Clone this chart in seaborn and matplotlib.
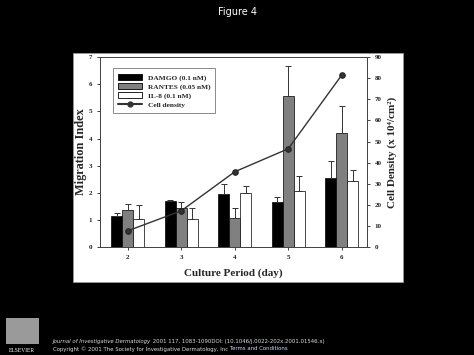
import matplotlib
matplotlib.use('Agg')
import matplotlib.pyplot as plt
import seaborn as sns
import numpy as np
import pandas as pd
from matplotlib.patches import Rectangle, Patch
from matplotlib.lines import Line2D

#----------------------------------------------------------------------------------------------------------------------#
# Data
#----------------------------------------------------------------------------------------------------------------------#

days = ['2', '3', '4', '5', '6']
treatments = ['DAMGO (0.1 nM)', 'RANTES (0.05 nM)', 'IL-8 (0.1 nM)']

damgo = [1.13, 1.70, 1.95, 1.65, 2.55]
damgo_err = [0.13, 0.02, 0.38, 0.20, 0.62]
rantes = [1.38, 1.45, 1.08, 5.55, 4.20]
rantes_err = [0.20, 0.22, 0.37, 1.12, 1.00]
il8 = [1.05, 1.03, 2.00, 2.08, 2.45]
il8_err = [0.50, 0.42, 0.25, 0.55, 0.38]

cell_density = [7.7, 17.2, 35.7, 46.6, 81.5]

bar_colors = ['black', '#808080', 'white']

#----------------------------------------------------------------------------------------------------------------------#
# Build table
#----------------------------------------------------------------------------------------------------------------------#

df = pd.DataFrame({
    'day': days * 3,
    'treatment': np.repeat(treatments, len(days)),
    'index': damgo + rantes + il8,
    'err': damgo_err + rantes_err + il8_err,
})

#----------------------------------------------------------------------------------------------------------------------#
# Plot
#----------------------------------------------------------------------------------------------------------------------#

sns.set_style('ticks')
plt.rcParams['font.family'] = ['Liberation Serif', 'DejaVu Serif']

fig = plt.figure(figsize=(4.74, 3.55), dpi=100, facecolor='black')

# white panel behind the chart
panel = Rectangle((0.154, 0.206), 0.696, 0.645, transform=fig.transFigure,
                  facecolor='white', edgecolor='#999999', linewidth=0.6, zorder=-5)
fig.patches.append(panel)

ax = fig.add_axes([0.211, 0.304, 0.563, 0.535])
ax.set_facecolor('white')

sns.barplot(data=df, x='day', y='index', hue='treatment', palette=bar_colors,
            edgecolor='black', linewidth=0.5, width=0.62, errorbar=None, ax=ax, legend=False)

# one-sided error bars at bar centres
for bars, (_, grp) in zip(ax.containers, df.groupby('treatment', sort=False)):
    xs = [b.get_x() + b.get_width() / 2 for b in bars]
    hs = [b.get_height() for b in bars]
    errs = grp['err'].values
    ax.errorbar(xs, hs, yerr=[np.zeros(len(errs)), errs], fmt='none', ecolor='#333333',
                elinewidth=0.7, capsize=2.5, capthick=0.7, zorder=3)

ax.set_ylim(0, 7)
ax.set_xlim(-0.52, 4.47)
ax.set_yticks(range(8))
ax.set_xlabel('Culture Period (day)', fontsize=8, fontweight='bold', labelpad=6)
ax.set_ylabel('Migration Index', fontsize=8.8, fontweight='bold', labelpad=1)
ax.tick_params(labelsize=5, length=2, width=0.6, colors='#222222')
for lbl in ax.get_xticklabels() + ax.get_yticklabels():
    lbl.set_fontweight('bold')
for s in ax.spines.values():
    s.set_linewidth(0.7)
    s.set_color('#444444')

ax2 = ax.twinx()
sns.lineplot(x=np.arange(len(days)), y=cell_density, ax=ax2, color='#333333',
             marker='o', markersize=4, markeredgecolor='#222222', linewidth=1.0)
ax2.set_ylim(0, 90)
ax2.set_yticks(range(0, 91, 10))
ax2.set_ylabel('Cell Density (x 10\u2074/cm\u00b2)', fontsize=8, fontweight='bold', labelpad=4)
ax2.tick_params(labelsize=5, length=2, width=0.6, colors='#222222')
for lbl in ax2.get_yticklabels():
    lbl.set_fontweight('bold')
for s in ax2.spines.values():
    s.set_linewidth(0.7)
    s.set_color('#444444')

# legend
handles = [Patch(facecolor=c, edgecolor='black', linewidth=0.6, label=t)
           for c, t in zip(bar_colors, treatments)]
handles.append(Line2D([0], [0], color='#333333', marker='o', markersize=3.5, label='Cell density'))
leg = ax.legend(handles=handles, loc='upper left', bbox_to_anchor=(0.035, 0.96),
                prop={'weight': 'bold', 'size': 5.3}, frameon=True, fancybox=False,
                edgecolor='#555555', handlelength=3.2, handleheight=0.9, borderpad=0.7,
                labelspacing=0.3)
leg.get_frame().set_linewidth(0.6)

# slide text
fig.text(0.5, 0.965, 'Figure 4', color='white', fontsize=7, ha='center', va='center',
         family='DejaVu Sans')

fig.patches.append(Rectangle((0.012, 0.03), 0.07, 0.075, transform=fig.transFigure,
                             facecolor='#9a9a9a', edgecolor='none'))
fig.text(0.047, 0.012, 'ELSEVIER', color='white', fontsize=4, ha='center', va='center',
         family='Liberation Serif')

cite_kw = dict(color='#dddddd', fontsize=3.9, va='center', family='DejaVu Sans')
t1 = fig.text(0.112, 0.037, 'Journal of Investigative Dermatology', style='italic', **cite_kw)
ax.annotate(' 2001 117, 1083-1090DOI: (10.1046/j.0022-202x.2001.01546.x)', xy=(1, 0.5),
            xycoords=t1, va='center', ha='left', color='#dddddd', fontsize=3.9,
            family='DejaVu Sans', annotation_clip=False)
t3 = fig.text(0.112, 0.017, 'Copyright \u00a9 2001 The Society for Investigative Dermatology, Inc',
              **cite_kw)
ax.annotate(' Terms and Conditions', xy=(1, 0.5), xycoords=t3, va='center', ha='left',
            color='#cfd8ff', fontsize=3.9, family='DejaVu Sans', annotation_clip=False)

fig.savefig('out.png', dpi=100, facecolor='black')
